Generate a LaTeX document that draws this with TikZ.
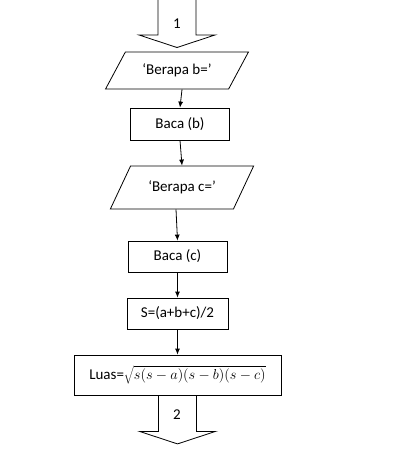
\documentclass[tikz,border=0pt]{standalone}
\usepackage{fontspec}
\setmainfont{Carlito}
\usetikzlibrary{shapes.geometric,arrows.meta}

\begin{document}
\begin{tikzpicture}[x=1pt,y=-1pt,>={Latex[length=6pt,width=5pt]},line width=0.8pt,
    font=\fontsize{15}{17}\selectfont,
    process/.style={draw,rectangle,minimum width=99pt,minimum height=32pt,inner sep=0pt},
    inout/.style={draw,trapezium,trapezium left angle=45,trapezium right angle=135,
      trapezium stretches=true,minimum width=144pt,minimum height=37pt,inner sep=0pt}]

    % page frame
      \useasboundingbox (0,0) rectangle (410,470);

    % half shaft, half head and head length of the block arrows
      \def\shaft{19}
      \def\wing{38}
      \def\headlen{12.5}

      \newcommand{\blockarrow}[2]{%
        \draw (#1) ++(-\shaft,0) -- ++(0,#2) -- ++(\shaft-\wing,0)
          -- ++(\wing,\headlen) -- ++(\wing,-\headlen) -- ++(\shaft-\wing,0)
          -- ++(0,-#2);
      }

    % Connector in
      \coordinate (intop) at (177,0);
      \blockarrow{intop}{35}
      \node (one) at (177,24) {1};

    % Draw the flow boxes
      \node[inout]   (askb) at (177,70.5)  {‘Berapa b=’};
      \node[process] (readb) at (180,124)  {Baca (b)};
      \node[inout]   (askc) at (182,187.5) [minimum height=43pt] {‘Berapa c=’};
      \node[process] (readc) at (177.5,256.5) [minimum height=31pt] {Baca (c)};
      \node[process] (semi) at (177.5,313.5) [minimum width=101pt,minimum height=31pt] {S=(a+b+c)/2};
      \node[process] (area) at (177.5,375) [minimum width=207pt,minimum height=40pt]
        {Luas=$\sqrt{s(s-a)(s-b)(s-c)}$};

    % Draw the connectors
      \draw[->] (askb.south) ++(5,0) -- (readb.north);
      \draw[->] (readb.south) -- (askc.north);
      \draw[->] (askc.south) ++(-6,0) -- (readc.north);
      \draw[->] (readc.south) -- (semi.north);
      \draw[->] (semi.south) -- (area.north);

    % Connector out
      \coordinate (outtop) at (area.south);
      \blockarrow{outtop}{36}
      \node (two) at (177,415) {2};

\end{tikzpicture}
\end{document}
